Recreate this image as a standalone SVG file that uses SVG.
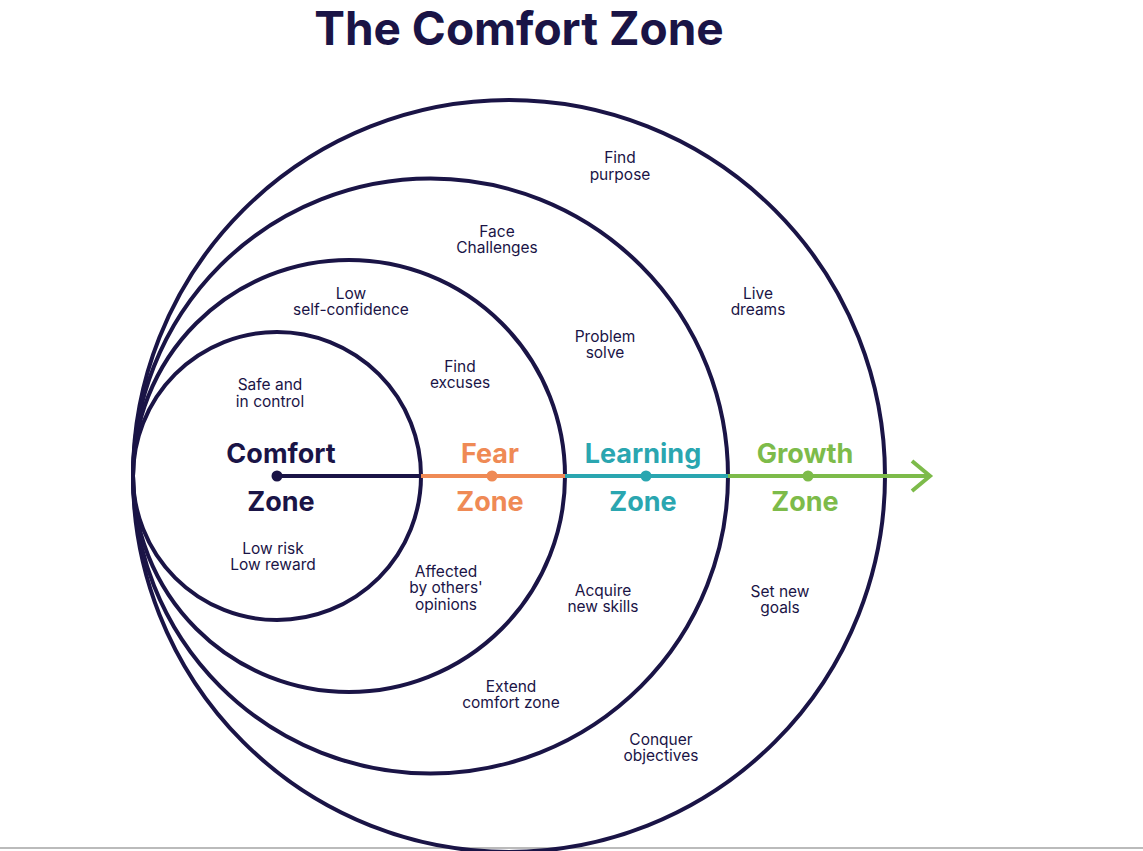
<svg xmlns="http://www.w3.org/2000/svg" width="1143" height="851" viewBox="0 0 1143 851">
<style>
.c{fill:none;stroke:#1a1446;stroke-width:4}
.t{font-family:Inter,"Liberation Sans",sans-serif;font-size:15.5px;fill:#1a1446;text-anchor:middle}
.z{font-family:Inter,"Liberation Sans",sans-serif;font-size:27px;font-weight:700;text-anchor:middle}
</style>
<rect width="1143" height="851" fill="#fff"/>
<line x1="0" y1="848" x2="1143" y2="848" stroke="#bbb" stroke-width="2"/>
<text x="519" y="45" style="font-family:Inter,'Liberation Sans',sans-serif;font-size:46px;font-weight:700;fill:#1a1446" text-anchor="middle">The Comfort Zone</text>
<g id="growth"><circle class="c" cx="509" cy="476" r="376"/></g>
<g id="learning"><circle class="c" cx="430.5" cy="476" r="297.5"/></g>
<g id="fear"><circle class="c" cx="349" cy="476" r="216"/></g>
<g id="comfort"><circle class="c" cx="277" cy="476" r="144"/></g>
<g id="connectors" stroke-width="4">
<line x1="277" y1="476" x2="421" y2="476" stroke="#1a1446"/>
<line x1="421" y1="476" x2="565" y2="476" stroke="#ef8a55"/>
<line x1="565" y1="476" x2="728" y2="476" stroke="#2aa6b0"/>
<line x1="728" y1="476" x2="930" y2="476" stroke="#7dbb4a"/>
<path d="M912,461 L930,476 L912,491" fill="none" stroke="#7dbb4a" stroke-width="4"/>
<circle cx="277" cy="476" r="5.5" fill="#1a1446"/>
<circle cx="492" cy="476" r="5.5" fill="#ef8a55"/>
<circle cx="646" cy="476" r="5.5" fill="#2aa6b0"/>
<circle cx="808" cy="476" r="5.5" fill="#7dbb4a"/>
</g>
<text class="z" x="281" y="463" fill="#1a1446">Comfort</text>
<text class="z" x="281" y="511" fill="#1a1446">Zone</text>
<text class="z" x="490" y="463" fill="#ef8a55">Fear</text>
<text class="z" x="490" y="511" fill="#ef8a55">Zone</text>
<text class="z" x="643" y="463" fill="#2aa6b0">Learning</text>
<text class="z" x="643" y="511" fill="#2aa6b0">Zone</text>
<text class="z" x="805" y="463" fill="#7dbb4a">Growth</text>
<text class="z" x="805" y="511" fill="#7dbb4a">Zone</text>
<g>
<text class="t" x="620" y="163">Find</text><text class="t" x="620" y="180">purpose</text>
<text class="t" x="497" y="237">Face</text><text class="t" x="497" y="253">Challenges</text>
<text class="t" x="758" y="299">Live</text><text class="t" x="758" y="315">dreams</text>
<text class="t" x="351" y="299">Low</text><text class="t" x="351" y="315">self-confidence</text>
<text class="t" x="605" y="342">Problem</text><text class="t" x="605" y="358">solve</text>
<text class="t" x="460" y="372">Find</text><text class="t" x="460" y="388">excuses</text>
<text class="t" x="270" y="390">Safe and</text><text class="t" x="270" y="407">in control</text>
<text class="t" x="273" y="554">Low risk</text><text class="t" x="273" y="570">Low reward</text>
<text class="t" x="446" y="577">Affected</text><text class="t" x="446" y="593">by others'</text><text class="t" x="446" y="610">opinions</text>
<text class="t" x="603" y="596">Acquire</text><text class="t" x="603" y="612">new skills</text>
<text class="t" x="780" y="597">Set new</text><text class="t" x="780" y="613">goals</text>
<text class="t" x="511" y="692">Extend</text><text class="t" x="511" y="708">comfort zone</text>
<text class="t" x="661" y="745">Conquer</text><text class="t" x="661" y="761">objectives</text>
</g>
</svg>
